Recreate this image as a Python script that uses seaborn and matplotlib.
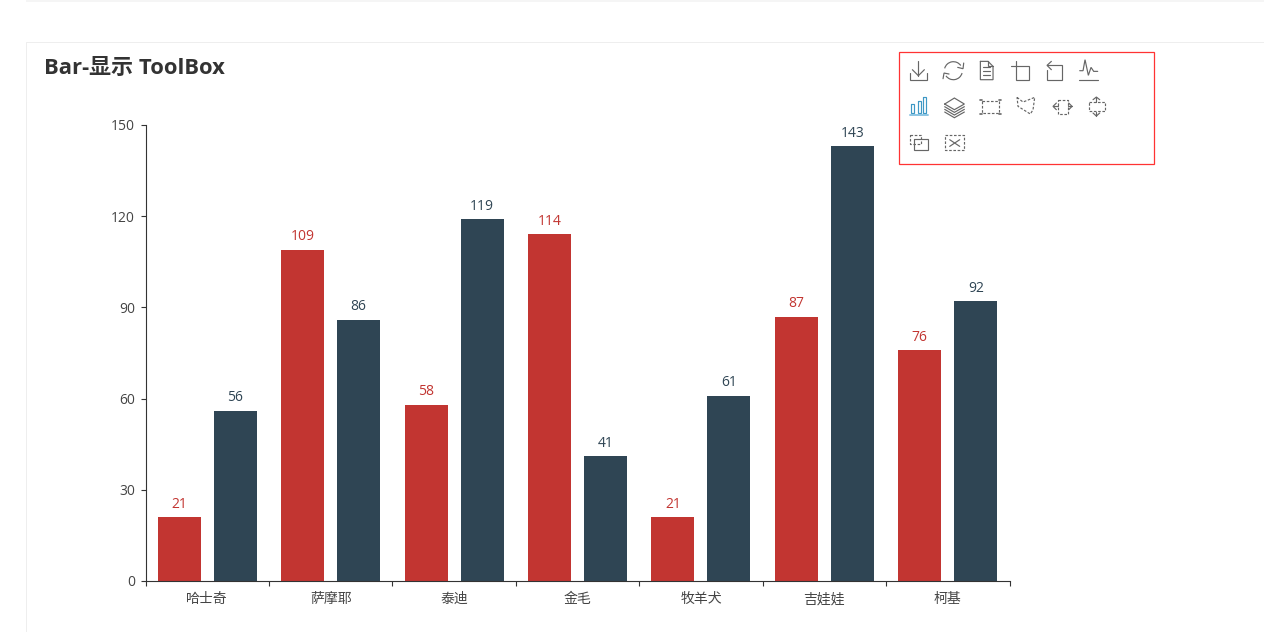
# Bar chart with a toolbox panel, redrawn with seaborn

import numpy as np
import pandas as pd
import matplotlib.pyplot as plt
from matplotlib.patches import Arc, Rectangle
import seaborn as sns

categories = ["哈士奇", "萨摩耶", "泰迪", "金毛", "牧羊犬", "吉娃娃", "柯基"]
series_a = [21, 109, 58, 114, 21, 87, 76]
series_b = [56, 86, 119, 41, 61, 143, 92]
y_ticks = [0, 30, 60, 90, 120, 150]

RED = "#c23531"
NAVY = "#2f4554"
ICON = "#666666"
BLUE = "#3e98c5"
DASH = (0, (2.2, 1.4))

sns.set_theme(style="white")
plt.rcParams["font.family"] = ["Open Sans", "Noto Sans CJK SC", "DejaVu Sans"]

df = pd.DataFrame({
    "category": categories * 2,
    "value": series_a + series_b,
    "series": ["A"] * len(series_a) + ["B"] * len(series_b),
})

fig = plt.figure(figsize=(12.64, 6.32), dpi=100)
ax = fig.add_axes([145.5 / 1264, 51 / 632, 864 / 1264, 456 / 632])

# ------------------------------
# Bars
# ------------------------------
sns.barplot(data=df, x="category", y="value", hue="series", palette=[RED, NAVY],
            width=0.908, gap=0.232, saturation=1, legend=False, linewidth=0, ax=ax)

for container, color in zip(ax.containers, [RED, NAVY]):
    ax.bar_label(container, padding=3.8, color=color, fontsize=10)

ax.set_xlim(-0.5, len(categories) - 0.5)
ax.set_ylim(0, 150)
ax.set_yticks(y_ticks)
ax.set_xlabel("")
ax.set_ylabel("")
ax.set_xticks(np.arange(len(categories) + 1) - 0.5, minor=True)
ax.tick_params(axis="x", which="major", length=0, pad=8, labelsize=10, labelcolor="#444444")
ax.tick_params(axis="x", which="minor", length=3.6, width=0.8, color="#333333", bottom=True)
ax.tick_params(axis="y", length=3.6, width=0.8, color="#333333", left=True, pad=4, labelsize=10,
               labelcolor="#444444")
sns.despine(ax=ax)
for side in ["left", "bottom"]:
    ax.spines[side].set_color("#333333")
    ax.spines[side].set_linewidth(0.8)
ax.patch.set_alpha(0)

# ------------------------------
# Page furniture, in pixel coordinates
# ------------------------------
page = fig.add_axes([0, 0, 1, 1], zorder=5)
page.set_xlim(0, 1264)
page.set_ylim(632, 0)
page.axis("off")

page.add_patch(Rectangle((26, 0), 1238, 2, facecolor="#f5f5f5", edgecolor="none"))
page.plot([26, 26, 1264], [632, 42, 42], color="#eeeeee", lw=0.72)
page.text(44, 68.5, "Bar-显示 ToolBox", fontsize=15.8, fontweight="bold", color="#333333",
          va="center", ha="left")
page.add_patch(Rectangle((899, 52), 255, 112, facecolor="none", edgecolor="#ff3333", lw=0.9))


# ------------------------------
# Toolbox icons
# ------------------------------
def px(x, y):
    return 889.7 + x / 3, 44.7 + y / 3


def stroke(points, color=ICON, ls="-", lw=0.85):
    xs, ys = zip(*[px(*p) for p in points])
    page.plot(xs, ys, color=color, ls=ls, lw=lw, solid_joinstyle="miter")


def box(x0, y0, x1, y1, color=ICON, ls="-", lw=0.85):
    stroke([(x0, y0), (x1, y0), (x1, y1), (x0, y1), (x0, y0)], color, ls, lw)


# save
stroke([(60, 85), (60, 105), (112, 105), (112, 85)])
stroke([(86, 50), (86, 93)])
stroke([(68, 75), (86, 93), (104, 75)])

# restore
cx, cy = px(191, 78)
page.add_patch(Arc((cx, cy), 18, 18, theta1=195, theta2=325, color=ICON, lw=0.85))
page.add_patch(Arc((cx, cy), 18, 18, theta1=15, theta2=145, color=ICON, lw=0.85))
stroke([(222, 55), (220, 72), (204, 68)])
stroke([(160, 102), (163, 85), (178, 88)])

# data view
stroke([(272, 50), (295, 50), (310, 65), (310, 105), (272, 105), (272, 50)])
stroke([(295, 50), (295, 65), (310, 65)])
for y in [68, 80, 92]:
    stroke([(281, y), (302, y)])

# zoom
stroke([(365, 63), (418, 63), (418, 105), (378, 105), (378, 50)])

# zoom back
stroke([(485, 50), (472, 62), (485, 75)])
stroke([(472, 62), (516, 62), (516, 105), (472, 105), (472, 75)])

# line type
stroke([(568, 105), (624, 105)])
stroke([(570, 78), (580, 78), (586, 45), (596, 92), (604, 68), (612, 80), (624, 80)])

# bar type, active
box(64, 178, 74, 205, BLUE)
box(84, 168, 94, 205, BLUE)
box(100, 158, 110, 205, BLUE)
stroke([(60, 212), (114, 212)], "#8cc5e3", lw=1.4)

# stack type
stroke([(165, 178), (194, 160), (224, 178), (194, 195), (165, 178)])
for shift in [8, 16, 24]:
    stroke([(165, 178 + shift), (194, 195 + shift), (224, 178 + shift)])

# rectangle select
box(277, 168, 329, 206, ls=DASH)
for x, y in [(275, 165), (330, 165), (275, 208), (330, 208)]:
    stroke([(x - 3, y), (x + 3, y)], lw=1.2)

# polygon select
stroke([(382, 158), (400, 172), (435, 158), (430, 195), (422, 208), (385, 185), (382, 158)], ls=DASH)

# keep x
box(505, 165, 535, 208, ls=DASH)
stroke([(500, 175), (490, 185), (500, 195)])
stroke([(537, 175), (547, 185), (537, 195)])
stroke([(490, 185), (504, 185)])
stroke([(536, 185), (547, 185)])

# keep y
box(598, 172, 645, 200, ls=DASH)
stroke([(610, 165), (620, 157), (630, 165)])
stroke([(610, 205), (620, 214), (630, 205)])
stroke([(620, 157), (620, 171)])
stroke([(620, 201), (620, 214)])

# keep selections
box(60, 270, 95, 298, ls=DASH)
box(72, 283, 116, 317)

# clear selections
box(167, 272, 223, 317, ls=DASH)
stroke([(180, 285), (210, 305)])
stroke([(210, 285), (180, 305)])

fig.savefig("out.png", dpi=100)
plt.close(fig)
